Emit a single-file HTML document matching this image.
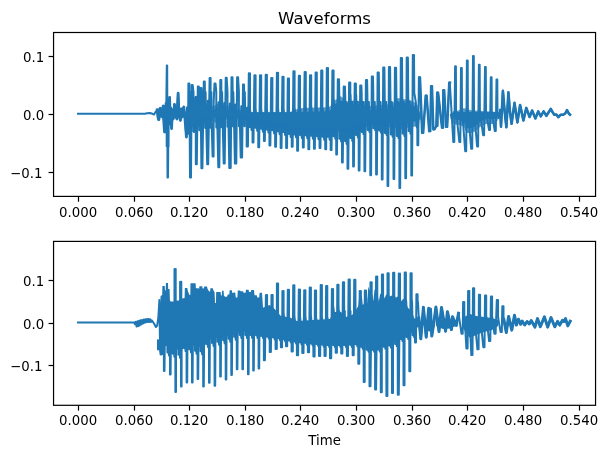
<!DOCTYPE html>
<html lang="en"><head><meta charset="utf-8"><title>Waveforms</title>
<style>html,body{margin:0;padding:0;background:#fff;}svg{display:block;}text{font-family:'DejaVu Sans', 'Liberation Sans', sans-serif;fill:#000;}</style></head><body>
<svg width="608" height="458" viewBox="0 0 608 458">
<rect x="0" y="0" width="608" height="458" fill="#ffffff"/>
<clipPath id="c1"><rect x="53.55" y="32.50" width="542.00" height="163.90"/></clipPath>
<g clip-path="url(#c1)" fill="none" stroke="#1f77b4" stroke-width="2" stroke-linejoin="round" stroke-linecap="square">
<polyline points="78.00,113.80 145.00,113.80 147.00,113.20 150.00,113.00 152.50,113.80 154.00,114.50 155.50,112.00 157.40,110.00 158.00,116.00 158.70,119.50 159.60,112.00 160.40,108.50 161.20,116.00 161.90,110.00 162.60,117.00 163.30,106.00 163.90,120.00 164.70,132.00 165.20,108.00 165.80,126.00 166.30,104.00 166.80,65.50 167.20,65.50 167.50,177.40 168.00,177.40 168.60,100.00 169.00,124.00 169.60,97.40 170.20,122.00 170.80,108.00 171.60,128.50 172.40,110.00 173.20,119.00 174.50,104.30 175.40,117.00 176.20,108.00 176.90,119.00 178.10,93.10 179.00,114.00 180.40,120.40 181.20,109.00 182.00,117.00 183.00,109.00 183.80,107.00 185.00,119.00 186.40,137.00 187.40,108.00 188.00,133.85 188.40,83.40 188.85,124.50 189.40,83.40 190.00,177.40 190.20,92.00 191.00,177.40 191.70,85.00 192.50,96.00 192.70,85.00 193.50,92.00 193.80,132.11 194.65,122.05 195.80,96.73 195.80,164.20 196.80,164.20 197.80,86.40 198.80,86.40 199.40,130.29 199.60,92.00 200.25,120.10 200.50,88.00 201.40,168.30 201.50,88.00 201.90,98.77 202.30,92.00 202.40,168.30 203.80,81.40 204.60,99.67 204.80,81.40 205.20,128.11 205.60,92.00 206.05,117.00 207.20,164.20 207.90,100.77 208.20,164.20 209.60,78.10 210.60,78.10 210.60,127.73 211.40,92.00 211.45,117.42 212.60,156.50 213.60,156.50 213.70,101.61 214.50,83.40 215.50,83.40 216.30,92.00 216.30,127.43 217.15,117.53 218.30,167.20 218.60,102.20 219.30,167.20 220.30,80.10 221.30,80.10 221.70,127.15 222.10,92.00 222.55,117.00 223.70,163.40 224.40,102.90 224.70,163.40 225.70,77.80 226.70,77.80 227.50,92.00 227.50,126.84 228.35,117.00 229.30,168.00 229.80,103.54 230.70,168.00 231.50,77.30 232.50,77.30 233.10,126.55 233.30,92.00 233.95,117.00 234.90,163.50 235.60,104.57 236.30,163.50 237.10,77.30 238.10,77.30 238.90,92.00 238.90,126.24 239.75,117.00 240.70,157.40 241.20,106.17 242.10,157.40 243.00,84.40 244.00,84.40 244.57,126.33 244.80,92.00 245.42,117.00 246.62,117.00 246.68,146.40 246.81,127.15 247.10,107.86 247.92,146.40 248.81,73.20 249.80,127.00 249.99,73.20 250.00,108.00 250.40,113.00 250.65,118.50 251.50,130.00 252.49,118.50 252.55,142.60 253.45,142.60 254.40,75.30 255.50,127.84 255.60,75.30 255.60,108.00 256.00,113.00 256.35,120.44 257.20,130.84 258.19,120.44 258.25,147.20 259.15,147.20 260.00,75.30 261.20,128.68 261.20,75.30 261.20,108.00 261.60,113.00 262.05,121.35 262.90,131.68 263.89,121.35 263.95,141.00 264.85,141.00 265.70,74.80 266.70,129.49 266.90,74.80 266.90,108.00 267.30,113.00 267.55,122.24 268.40,132.49 269.39,122.24 269.45,145.40 270.35,145.40 271.20,78.10 272.40,78.10 272.40,108.00 272.40,130.32 272.80,113.00 273.25,123.16 274.10,133.32 275.09,123.16 275.15,146.70 276.05,146.70 276.90,72.70 277.90,131.13 278.10,72.70 278.10,108.00 278.50,113.00 278.75,124.05 279.60,134.13 280.59,124.05 280.65,148.00 281.55,148.00 282.40,76.80 283.40,131.94 283.60,76.80 283.60,108.00 284.00,113.00 284.25,124.94 285.10,134.94 286.09,124.94 286.15,148.00 287.05,148.00 287.80,78.50 289.00,78.50 289.00,108.00 289.00,134.02 289.40,112.83 289.85,127.01 290.70,137.02 291.69,127.01 291.75,146.70 292.65,146.70 293.40,71.20 294.40,134.44 294.60,71.20 294.60,107.60 295.00,110.43 295.25,127.29 296.10,137.44 297.09,127.29 297.15,150.80 298.05,150.80 298.80,75.70 300.00,75.70 300.00,107.06 300.10,134.89 300.40,109.75 300.95,127.59 301.80,137.89 302.79,127.59 302.85,147.50 303.75,147.50 304.60,72.00 305.60,135.33 305.80,72.00 305.80,106.48 306.20,109.42 306.45,127.88 307.30,138.33 308.29,127.88 308.35,149.20 309.25,149.20 310.00,75.20 311.20,135.77 311.20,75.20 311.20,105.94 311.60,109.11 312.05,128.18 312.90,138.77 313.89,128.18 313.95,148.80 314.85,148.80 315.60,72.40 316.80,72.40 316.80,105.38 316.80,136.21 317.20,108.79 317.65,128.47 318.50,139.21 319.49,128.47 319.55,148.00 320.45,148.00 321.20,70.40 322.40,70.40 322.40,104.82 322.50,136.66 322.80,108.47 323.35,128.77 324.20,139.66 325.19,128.77 325.25,149.20 326.15,149.20 326.80,67.90 327.94,136.82 328.00,67.90 328.00,104.26 328.40,108.15 328.79,128.45 329.64,139.71 330.60,128.45 330.66,149.90 331.54,149.90 332.40,70.40 333.60,70.40 333.60,136.25 333.78,98.60 334.45,126.15 334.84,104.40 335.30,138.68 336.17,126.15 336.23,154.40 336.98,154.40 337.80,79.30 339.00,79.30 339.30,94.92 339.40,138.67 340.25,127.60 340.80,102.00 341.10,141.39 341.96,127.60 342.02,162.60 342.77,162.60 343.70,86.40 344.90,140.96 344.90,86.40 345.20,94.77 345.75,128.97 346.60,143.95 346.70,102.00 347.46,128.97 347.52,168.70 348.27,168.70 349.10,82.60 350.30,82.60 350.50,138.09 350.60,94.63 351.35,126.74 352.10,102.00 352.20,140.76 353.06,126.74 353.12,166.40 353.88,166.40 354.70,83.60 355.90,83.60 356.10,135.12 356.20,94.49 356.95,124.43 357.70,102.00 357.80,137.47 358.67,124.43 358.73,170.50 359.48,170.50 360.20,85.50 361.40,85.50 361.70,94.36 361.80,132.11 362.65,122.08 363.20,102.00 363.50,134.12 364.37,122.08 364.43,171.30 365.18,171.30 365.90,80.10 367.10,80.10 367.40,94.21 367.70,129.93 368.55,120.45 368.90,102.00 369.40,131.93 370.26,120.45 370.32,175.30 371.07,175.30 371.80,76.50 373.00,76.50 373.30,94.06 373.50,128.21 374.35,119.12 374.80,102.00 375.20,130.21 376.06,119.12 376.12,174.60 376.88,174.60 377.60,72.40 378.80,72.40 379.10,93.92 379.20,130.58 380.05,120.55 380.60,102.00 380.90,132.58 381.76,120.55 381.82,179.40 382.57,179.40 383.20,67.40 384.40,67.40 384.70,93.78 384.90,132.96 385.75,121.97 386.20,102.00 386.60,134.96 387.46,121.97 387.52,185.90 388.27,185.90 388.90,67.10 390.10,67.10 390.40,93.64 390.90,134.47 391.75,122.98 391.90,102.00 392.60,136.67 393.46,122.98 393.52,179.00 394.27,179.00 394.90,67.80 396.10,67.80 396.40,93.49 396.80,135.95 397.65,123.97 397.90,102.00 398.50,138.34 399.37,123.97 399.43,188.10 400.18,188.10 400.80,57.90 402.00,57.90 402.30,93.34 402.70,133.62 403.55,123.05 403.80,102.00 404.40,136.07 405.26,123.05 405.32,178.20 406.07,178.20 406.70,57.60 407.90,57.60 408.20,93.19 408.70,131.12 409.55,122.05 409.70,102.00 410.40,133.62 411.26,122.05 411.32,175.40 412.07,175.40 412.80,55.10 414.00,55.10 414.30,93.04 415.80,102.00 416.48,125.92 417.23,128.06 417.30,121.03 417.36,145.30 418.25,145.30 418.87,77.30 419.73,77.30 421.90,133.00 422.90,133.00 425.50,95.40 426.30,95.40 429.00,131.30 430.00,131.30 430.90,85.90 431.70,85.90 433.10,129.40 434.10,129.40 436.10,126.00 437.00,92.40 437.10,126.00 437.80,92.40 441.80,127.80 442.80,127.80 443.10,90.00 443.90,90.00 445.90,127.00 446.90,127.00 449.00,82.60 449.80,82.60 453.30,142.00 454.30,142.00 455.10,66.30 455.90,66.30 456.10,110.89 456.50,114.00 459.30,142.00 460.30,142.00 461.00,67.90 461.80,67.90 462.00,111.03 462.40,114.00 465.20,151.30 466.20,151.30 466.90,60.40 467.70,60.40 467.90,111.18 468.30,114.00 471.20,148.80 472.20,148.80 473.00,55.90 473.80,55.90 474.00,111.33 474.40,114.00 477.10,146.40 478.10,146.40 478.90,64.70 479.70,64.70 479.90,111.48 480.30,114.00 483.10,135.20 484.10,135.20 485.00,67.00 485.80,67.00 486.00,111.64 486.40,114.00 489.00,129.90 490.00,129.90 490.80,77.30 491.60,77.30 491.80,111.78 492.20,114.00 494.80,131.00 495.80,131.00 496.50,79.50 497.30,79.50 497.50,111.92 497.90,114.00 498.50,118.00 500.20,110.00 501.00,126.60 502.90,90.80 504.50,110.00 506.40,127.30 508.40,92.30 510.00,112.00 511.60,123.80 514.50,102.90 517.40,122.40 520.10,105.00 523.40,120.50 526.30,107.90 529.60,117.00 532.10,110.50 535.40,118.40 538.20,111.40 540.80,116.30 543.60,111.40 546.40,115.80 548.50,112.50 550.70,108.90 552.50,112.00 554.30,114.70 556.30,114.50 558.40,117.10 560.50,114.80 563.30,114.70 565.20,113.50 567.00,110.20 568.80,113.50 570.00,114.70"/>
<polyline points="419.37,77.30 420.23,77.30 422.40,133.00 423.40,133.00 426.00,95.40 426.80,95.40 429.50,131.30 430.50,131.30 431.40,85.90 432.20,85.90 433.60,129.40 434.60,129.40 436.60,126.00 437.50,92.40 437.60,126.00 438.30,92.40 442.30,127.80 443.30,127.80 443.60,90.00 444.40,90.00 446.40,127.00 447.40,127.00 449.50,82.60 450.30,82.60"/>
<polyline points="157.40,110.00 158.00,116.00 158.70,119.50 159.60,112.00 160.40,108.50 161.20,116.00 161.90,110.00 162.60,117.00 163.30,106.00 163.90,120.00 164.70,132.00 165.20,108.00 165.80,126.00 166.30,104.00" stroke-width="3.20"/>
<polyline points="168.60,100.00 169.00,124.00 169.60,97.40 170.20,122.00 170.80,108.00 171.60,128.50 172.40,110.00 173.20,119.00 174.50,104.30 175.40,117.00 176.20,108.00 176.90,119.00 178.10,93.10 179.00,114.00 180.40,120.40 181.20,109.00 182.00,117.00 183.00,109.00 183.80,107.00 185.00,119.00 186.40,137.00 187.40,108.00" stroke-width="2.80"/>
<polyline points="166.60,118.00 166.70,146.00"/>
<polyline points="168.40,116.00 168.40,146.00"/>
<polyline points="500.20,110.00 501.00,126.60 502.90,90.80 504.50,110.00 506.40,127.30 508.40,92.30 510.00,112.00 511.60,123.80 514.50,102.90 517.40,122.40 520.10,105.00 523.40,120.50 526.30,107.90 529.60,117.00 532.10,110.50 535.40,118.40 538.20,111.40 540.80,116.30 543.60,111.40 546.40,115.80 548.50,112.50 550.70,108.90 552.50,112.00 554.30,114.70 556.30,114.50 558.40,117.10 560.50,114.80 563.30,114.70 565.20,113.50 567.00,110.20 568.80,113.50 570.00,114.70" stroke-width="2.60"/>
<polyline points="188.00,112.00 188.70,119.10 189.40,105.63 190.10,126.23 190.80,99.48 191.50,129.50 192.20,98.22 192.90,130.90 193.60,97.68 194.30,129.05 195.00,98.10 195.70,126.95 196.40,98.52 197.10,125.00 197.80,98.94 198.50,125.00 199.20,99.96 199.90,125.00 200.60,101.08 201.30,124.44 202.00,102.20 202.70,121.81 203.40,103.40 204.10,119.19 204.80,104.80 205.50,117.62 206.20,106.20 206.90,117.97 207.60,107.00 208.30,118.32 209.00,107.00 209.70,118.67 210.40,107.00 211.10,119.06 211.80,107.00 212.50,119.90 213.20,107.00 213.90,120.74 214.60,106.64 215.30,121.58 216.00,105.80 216.70,121.53 217.40,104.96 218.10,120.60 218.80,104.12 219.50,119.67 220.20,104.48 220.90,118.73 221.60,105.04 222.30,118.01 223.00,105.60 223.70,118.08 224.40,106.10 225.10,118.15 225.80,106.45 226.50,118.22 227.20,106.80 227.90,118.29 228.60,107.15 229.30,118.36 230.00,107.50 230.70,118.43 231.40,107.92 232.10,118.50 232.80,108.34 233.50,118.50 234.20,108.76 234.90,118.50 235.60,109.20 236.30,118.50 237.00,109.67 237.70,118.50 238.40,110.13 239.10,118.50 239.80,110.60 240.50,118.50 241.20,111.06 241.90,118.50 242.60,111.48 243.30,118.50 244.00,111.90 244.70,118.50 245.40,112.32 246.10,118.56 246.80,112.83 247.50,119.44 248.20,113.42 248.90,120.31 249.60,114.00 250.30,121.15 251.00,114.58 251.70,121.85 252.40,115.00 253.10,122.55 253.80,115.00 254.50,123.25 255.20,115.00 255.90,123.95 256.60,115.00 257.30,124.21 258.00,115.00 258.70,124.44 259.40,115.00 260.10,124.66 260.80,115.00 261.50,124.89 262.20,115.00 262.90,125.11 263.60,115.00 264.30,125.34 265.00,115.00 265.70,125.56 266.40,115.00 267.10,125.79 267.80,115.00 268.50,126.02 269.20,115.00 269.90,126.24 270.60,115.00 271.30,126.47 272.00,115.00 272.70,126.69 273.40,115.00 274.10,126.92 274.80,115.00 275.50,127.15 276.20,115.00 276.90,127.37 277.60,115.00 278.30,127.60 279.00,115.00 279.70,127.82 280.40,115.00 281.10,128.05 281.80,115.00 282.50,128.27 283.20,115.00 283.90,128.50 284.60,115.00 285.30,128.73 286.00,114.57 286.70,128.95 287.40,113.97 288.10,129.44 288.80,113.37 289.50,130.00 290.20,112.77 290.90,130.56 291.60,112.17 292.30,131.02 293.00,111.63 293.70,131.09 294.40,111.10 295.10,131.16 295.80,110.58 296.50,131.24 297.20,110.05 297.90,131.31 298.60,109.53 299.30,131.38 300.00,109.00 300.70,131.46 301.40,108.95 302.10,131.53 302.80,108.91 303.50,131.61 304.20,108.86 304.90,131.68 305.60,108.81 306.30,131.75 307.00,108.77 307.70,131.83 308.40,108.72 309.10,131.90 309.80,108.67 310.50,131.97 311.20,108.63 311.90,132.05 312.60,108.58 313.30,132.12 314.00,108.53 314.70,132.19 315.40,108.49 316.10,132.27 316.80,108.44 317.50,132.34 318.20,108.39 318.90,132.42 319.60,108.35 320.30,132.49 321.00,108.30 321.70,132.56 322.40,108.25 323.10,132.64 323.80,108.21 324.50,132.71 325.20,108.16 325.90,132.78 326.60,108.11 327.30,132.86 328.00,108.07 328.70,132.93 329.40,108.02 330.10,132.95 330.80,106.80 331.50,132.25 332.20,104.70 332.90,131.55 333.60,102.60 334.30,130.85 335.00,101.25 335.70,130.15 336.40,100.22 337.10,130.27 337.80,99.24 338.50,130.62 339.20,98.26 339.90,130.97 340.60,97.28 341.30,131.32 342.00,98.17 342.70,131.67 343.40,99.80 344.10,132.02 344.80,101.43 345.50,132.37 346.20,103.07 346.90,132.72 347.60,103.70 348.30,132.88 349.00,103.00 349.70,132.30 350.40,102.30 351.10,131.72 351.80,101.60 352.50,131.15 353.20,101.55 353.90,130.57 354.60,101.61 355.30,129.99 356.00,101.67 356.70,129.42 357.40,101.72 358.10,128.84 358.80,101.78 359.50,128.26 360.20,101.84 360.90,127.69 361.60,101.90 362.30,127.11 363.00,101.96 363.70,126.54 364.40,102.40 365.10,125.97 365.80,103.80 366.50,125.59 367.20,105.20 367.90,125.21 368.60,106.60 369.30,124.83 370.00,106.91 370.70,124.45 371.40,106.78 372.10,124.06 372.80,106.65 373.50,123.68 374.20,106.53 374.90,123.30 375.60,106.40 376.30,123.07 377.00,106.27 377.70,123.42 378.40,106.15 379.10,123.77 379.80,106.02 380.50,124.12 381.20,105.90 381.90,124.47 382.60,105.78 383.30,124.82 384.00,105.67 384.70,125.17 385.40,105.55 386.10,125.52 386.80,105.43 387.50,125.87 388.20,105.32 388.90,126.15 389.60,105.20 390.30,126.38 391.00,105.08 391.70,126.62 392.40,104.60 393.10,126.85 393.80,103.20 394.50,127.08 395.20,101.80 395.90,127.32 396.60,100.40 397.30,127.55 398.00,99.00 398.70,127.78 399.40,99.23 400.10,127.98 400.80,99.47 401.50,127.75 402.20,99.70 402.90,127.52 403.60,99.93 404.30,127.28 405.00,100.17 405.70,127.05 406.40,100.40 407.10,126.82 407.80,100.63 408.50,126.58 409.20,100.87 409.90,126.35 410.60,101.30 411.30,126.12 412.00,102.00 412.70,125.88 413.40,102.70 414.10,125.65 414.80,103.40 415.50,125.42 416.20,104.27 416.90,125.18 417.60,106.45 418.30,122.57 419.00,112.21 419.70,118.93" stroke-width="2.00" opacity="0.75"/>
<polyline points="451.00,116.49 451.70,119.38 452.40,114.11 453.10,122.06 453.80,112.03 454.50,123.12 455.20,111.85 455.90,123.47 456.60,111.68 457.30,123.78 458.00,111.50 458.70,124.08 459.40,110.92 460.10,124.38 460.80,110.33 461.50,124.68 462.20,109.75 462.90,124.98 463.60,109.17 464.30,127.27 465.00,109.33 465.70,129.72 466.40,109.80 467.10,132.00 467.80,110.27 468.50,132.00 469.20,110.73 469.90,132.00 470.60,111.04 471.30,131.89 472.00,111.14 472.70,131.36 473.40,111.23 474.10,130.84 474.80,111.33 475.50,130.05 476.20,111.42 476.90,128.79 477.60,111.52 478.30,127.53 479.00,111.61 479.70,126.27 480.40,111.71 481.10,125.45 481.80,111.80 482.50,124.75 483.20,111.90 483.90,124.05 484.60,112.00 485.30,123.35 486.00,112.09 486.70,123.00 487.40,112.19 488.10,123.00 488.80,112.28 489.50,123.00 490.20,112.38 490.90,123.00 491.60,112.47 492.30,123.00 493.00,112.56 493.70,123.00 494.40,112.65 495.10,122.63 495.80,113.22 496.50,120.60 497.20,115.41 497.90,118.17" stroke-width="2.00" opacity="0.75"/>
<polyline points="188.00,112.25 188.70,116.80 189.40,107.98 190.10,121.83 190.80,103.48 191.50,124.50 192.20,102.22 192.90,125.90 193.60,101.68 194.30,124.05 195.00,102.10 195.70,121.95 196.40,102.52 197.10,120.00 197.80,102.94 198.50,120.00 199.20,103.96 199.90,120.00 200.60,105.08 201.30,119.70 202.00,106.20 202.70,118.30 203.40,107.40 204.10,116.90 204.80,108.80 205.50,116.00 206.20,110.20 206.90,116.00 207.60,111.00 208.30,116.00 209.00,111.00 209.70,116.00 210.40,111.00 211.10,116.02 211.80,111.00 212.50,116.30 213.20,111.00 213.90,116.58 214.60,110.64 215.30,116.86 216.00,109.80 216.70,116.88 217.40,108.96 218.10,116.65 218.80,108.12 219.50,116.42 220.20,108.48 220.90,116.18 221.60,109.04 222.30,116.00 223.00,109.60 223.70,116.00 224.40,110.10 225.10,116.00 225.80,110.45 226.50,116.00 227.20,110.80 227.90,116.00 228.60,111.15 229.30,116.00 230.00,111.50 230.70,116.00 231.40,111.92 232.10,116.00 232.80,112.34 233.50,116.00 234.20,112.76 234.90,116.00 235.60,113.00 236.30,116.00 237.00,113.00 237.70,116.00 238.40,113.00 239.10,116.00 239.80,113.00 240.50,116.00 241.20,113.00 241.90,116.00 242.60,113.00 243.30,116.00 244.00,113.00 244.70,116.00 245.40,113.00 246.10,116.00 246.80,113.00 247.50,116.00 248.20,113.00 248.90,116.00 249.60,113.00 250.30,116.15 251.00,113.00 251.70,116.85 252.40,113.00 253.10,117.55 253.80,113.00 254.50,118.25 255.20,113.00 255.90,118.95 256.60,113.00 257.30,119.21 258.00,113.00 258.70,119.44 259.40,113.00 260.10,119.66 260.80,113.00 261.50,119.89 262.20,113.00 262.90,120.11 263.60,113.00 264.30,120.34 265.00,113.00 265.70,120.56 266.40,113.00 267.10,120.79 267.80,113.00 268.50,121.02 269.20,113.00 269.90,121.24 270.60,113.00 271.30,121.47 272.00,113.00 272.70,121.69 273.40,113.00 274.10,121.92 274.80,113.00 275.50,122.15 276.20,113.00 276.90,122.37 277.60,113.00 278.30,122.60 279.00,113.00 279.70,122.82 280.40,113.00 281.10,123.05 281.80,113.00 282.50,123.27 283.20,113.00 283.90,123.50 284.60,113.00 285.30,123.73 286.00,113.00 286.70,123.95 287.40,113.00 288.10,124.44 288.80,113.00 289.50,125.00 290.20,113.00 290.90,125.56 291.60,113.00 292.30,126.02 293.00,113.00 293.70,126.09 294.40,113.00 295.10,126.16 295.80,113.00 296.50,126.24 297.20,113.00 297.90,126.31 298.60,113.00 299.30,126.38 300.00,113.00 300.70,126.46 301.40,112.95 302.10,126.53 302.80,112.91 303.50,126.61 304.20,112.86 304.90,126.68 305.60,112.81 306.30,126.75 307.00,112.77 307.70,126.83 308.40,112.72 309.10,126.90 309.80,112.67 310.50,126.97 311.20,112.63 311.90,127.05 312.60,112.58 313.30,127.12 314.00,112.53 314.70,127.19 315.40,112.49 316.10,127.27 316.80,112.44 317.50,127.34 318.20,112.39 318.90,127.42 319.60,112.35 320.30,127.49 321.00,112.30 321.70,127.56 322.40,112.25 323.10,127.64 323.80,112.21 324.50,127.71 325.20,112.16 325.90,127.78 326.60,112.11 327.30,127.86 328.00,112.07 328.70,127.93 329.40,112.02 330.10,127.95 330.80,110.80 331.50,127.25 332.20,108.70 332.90,126.55 333.60,106.60 334.30,125.85 335.00,105.25 335.70,125.15 336.40,104.22 337.10,125.27 337.80,103.24 338.50,125.62 339.20,102.26 339.90,125.97 340.60,101.28 341.30,126.32 342.00,102.17 342.70,126.67 343.40,103.80 344.10,127.02 344.80,105.43 345.50,127.37 346.20,107.07 346.90,127.72 347.60,107.70 348.30,127.88 349.00,107.00 349.70,127.30 350.40,106.30 351.10,126.72 351.80,105.60 352.50,126.15 353.20,105.55 353.90,125.57 354.60,105.61 355.30,124.99 356.00,105.67 356.70,124.42 357.40,105.72 358.10,123.84 358.80,105.78 359.50,123.26 360.20,105.84 360.90,122.69 361.60,105.90 362.30,122.11 363.00,105.96 363.70,121.54 364.40,106.40 365.10,120.97 365.80,107.80 366.50,120.59 367.20,109.20 367.90,120.21 368.60,110.60 369.30,119.83 370.00,110.91 370.70,119.45 371.40,110.78 372.10,119.06 372.80,110.65 373.50,118.68 374.20,110.53 374.90,118.30 375.60,110.40 376.30,118.07 377.00,110.27 377.70,118.42 378.40,110.15 379.10,118.77 379.80,110.02 380.50,119.12 381.20,109.90 381.90,119.47 382.60,109.78 383.30,119.82 384.00,109.67 384.70,120.17 385.40,109.55 386.10,120.52 386.80,109.43 387.50,120.87 388.20,109.32 388.90,121.15 389.60,109.20 390.30,121.38 391.00,109.08 391.70,121.62 392.40,108.60 393.10,121.85 393.80,107.20 394.50,122.08 395.20,105.80 395.90,122.32 396.60,104.40 397.30,122.55 398.00,103.00 398.70,122.78 399.40,103.23 400.10,122.98 400.80,103.47 401.50,122.75 402.20,103.70 402.90,122.52 403.60,103.93 404.30,122.28 405.00,104.17 405.70,122.05 406.40,104.40 407.10,121.82 407.80,104.63 408.50,121.58 409.20,104.87 409.90,121.35 410.60,105.30 411.30,121.12 412.00,106.00 412.70,120.88 413.40,106.70 414.10,120.65 414.80,107.40 415.50,120.42 416.20,108.27 416.90,120.18 417.60,110.30 418.30,118.77 419.00,113.96 419.70,116.97"/>
<polyline points="451.00,114.77 451.70,116.10 452.40,113.84 453.10,117.46 453.80,113.00 454.50,118.12 455.20,113.00 455.90,118.47 456.60,113.00 457.30,118.78 458.00,113.00 458.70,119.08 459.40,113.00 460.10,119.38 460.80,113.00 461.50,119.68 462.20,113.00 462.90,119.98 463.60,113.00 464.30,122.27 465.00,113.00 465.70,124.72 466.40,113.00 467.10,127.00 467.80,113.00 468.50,127.00 469.20,113.00 469.90,127.00 470.60,113.00 471.30,126.89 472.00,113.00 472.70,126.36 473.40,113.00 474.10,125.84 474.80,113.00 475.50,125.05 476.20,113.00 476.90,123.79 477.60,113.00 478.30,122.53 479.00,113.00 479.70,121.27 480.40,113.00 481.10,120.45 481.80,113.00 482.50,119.75 483.20,113.00 483.90,119.05 484.60,113.00 485.30,118.35 486.00,113.00 486.70,118.00 487.40,113.00 488.10,118.00 488.80,113.00 489.50,118.00 490.20,113.00 490.90,118.00 491.60,113.00 492.30,118.00 493.00,113.00 493.70,118.00 494.40,113.00 495.10,117.63 495.80,113.22 496.50,116.47 497.20,114.11 497.90,115.22"/>
</g>
<line x1="78.50" y1="196.40" x2="78.50" y2="201.70" stroke="#000" stroke-width="1.20"/>
<line x1="134.50" y1="196.40" x2="134.50" y2="201.70" stroke="#000" stroke-width="1.20"/>
<line x1="189.50" y1="196.40" x2="189.50" y2="201.70" stroke="#000" stroke-width="1.20"/>
<line x1="245.50" y1="196.40" x2="245.50" y2="201.70" stroke="#000" stroke-width="1.20"/>
<line x1="300.50" y1="196.40" x2="300.50" y2="201.70" stroke="#000" stroke-width="1.20"/>
<line x1="356.50" y1="196.40" x2="356.50" y2="201.70" stroke="#000" stroke-width="1.20"/>
<line x1="412.50" y1="196.40" x2="412.50" y2="201.70" stroke="#000" stroke-width="1.20"/>
<line x1="467.50" y1="196.40" x2="467.50" y2="201.70" stroke="#000" stroke-width="1.20"/>
<line x1="523.50" y1="196.40" x2="523.50" y2="201.70" stroke="#000" stroke-width="1.20"/>
<line x1="579.50" y1="196.40" x2="579.50" y2="201.70" stroke="#000" stroke-width="1.20"/>
<line x1="48.55" y1="56.50" x2="53.55" y2="56.50" stroke="#000" stroke-width="1.20"/>
<line x1="48.55" y1="114.50" x2="53.55" y2="114.50" stroke="#000" stroke-width="1.20"/>
<line x1="48.55" y1="172.50" x2="53.55" y2="172.50" stroke="#000" stroke-width="1.20"/>
<rect x="53.55" y="32.50" width="542.00" height="163.90" fill="none" stroke="#000" stroke-width="1.20"/>
<text x="78.10" y="216.70" font-size="13.33" text-anchor="middle">0.000</text>
<text x="134.10" y="216.70" font-size="13.33" text-anchor="middle">0.060</text>
<text x="189.10" y="216.70" font-size="13.33" text-anchor="middle">0.120</text>
<text x="245.10" y="216.70" font-size="13.33" text-anchor="middle">0.180</text>
<text x="300.10" y="216.70" font-size="13.33" text-anchor="middle">0.240</text>
<text x="356.10" y="216.70" font-size="13.33" text-anchor="middle">0.300</text>
<text x="412.10" y="216.70" font-size="13.33" text-anchor="middle">0.360</text>
<text x="467.10" y="216.70" font-size="13.33" text-anchor="middle">0.420</text>
<text x="523.10" y="216.70" font-size="13.33" text-anchor="middle">0.480</text>
<text x="579.10" y="216.70" font-size="13.33" text-anchor="middle">0.540</text>
<text x="44.15" y="61.70" font-size="13.33" text-anchor="end">0.1</text>
<text x="44.15" y="119.70" font-size="13.33" text-anchor="end">0.0</text>
<text x="42.45" y="177.70" font-size="13.33" text-anchor="end">−0.1</text>
<clipPath id="c2"><rect x="53.55" y="241.40" width="542.00" height="163.90"/></clipPath>
<g clip-path="url(#c2)" fill="none" stroke="#1f77b4" stroke-width="2" stroke-linejoin="round" stroke-linecap="square">
<polyline points="78.00,322.50 133.50,322.50 134.20,322.37 135.00,324.24 135.80,321.86 136.60,326.60 137.40,321.34 138.20,326.20 139.00,320.82 139.80,325.47 140.60,320.35 141.40,324.40 142.20,319.95 143.00,323.50 143.80,319.55 144.60,322.70 145.40,319.31 146.20,322.30 147.00,319.08 147.80,322.03 148.60,319.07 149.40,322.00 150.20,319.18 151.00,322.00 151.80,320.37 154.00,323.50 155.90,327.00 157.20,325.50 158.30,318.00 159.40,300.00 160.00,345.00 157.95,340.25 158.00,349.45 158.85,341.25 160.60,354.40 161.20,354.40 161.25,343.69 161.30,351.05 161.45,340.25 162.15,344.69 162.90,354.05 163.84,344.69 163.90,370.90 164.50,370.90 164.75,343.69 167.35,345.62 167.40,352.48 168.25,346.62 168.99,355.48 169.94,346.62 170.00,374.50 170.60,374.50 170.85,345.62 172.75,347.33 172.80,353.75 173.65,348.33 174.05,305.00 174.39,356.75 174.50,268.90 175.34,348.33 175.40,391.90 175.70,268.90 175.70,300.00 176.00,391.90 176.10,302.00 176.25,347.33 178.35,348.65 178.40,354.65 179.25,349.65 179.65,305.00 179.98,357.65 180.10,281.80 180.94,349.65 181.00,386.50 181.30,281.80 181.30,300.00 181.60,386.50 181.70,302.00 181.85,348.65 183.95,342.12 184.00,348.12 184.85,343.12 185.58,351.12 186.54,343.12 186.60,382.40 187.20,382.40 187.45,342.12 189.35,343.32 189.40,349.32 190.25,344.32 190.97,352.32 191.94,344.32 192.00,382.40 192.60,382.40 192.85,343.32 194.95,344.73 195.00,350.73 195.85,345.73 196.57,353.73 197.54,345.73 197.60,379.10 198.20,379.10 198.45,344.73 200.55,345.33 200.60,351.33 201.45,346.33 202.17,354.33 203.14,346.33 203.20,386.50 203.80,386.50 204.05,345.33 206.35,337.95 206.40,343.95 207.25,338.95 207.96,346.95 208.94,338.95 209.00,382.70 209.60,382.70 209.85,337.95 211.95,336.93 212.00,342.93 212.85,337.93 213.56,345.93 214.54,337.93 214.60,385.70 215.20,385.70 215.45,336.93 217.55,335.86 217.60,341.86 218.45,336.86 219.15,344.86 220.14,336.86 220.20,376.60 220.80,376.60 221.05,335.86 223.05,334.36 223.10,340.36 223.95,335.36 224.65,343.36 225.64,335.36 225.70,379.40 226.30,379.40 226.55,334.36 228.65,332.84 228.70,338.78 229.55,333.84 230.24,341.78 231.24,333.84 231.30,375.00 231.90,375.00 232.15,332.84 234.15,331.34 234.20,336.78 235.05,332.34 235.74,339.78 236.74,332.34 236.80,369.20 237.40,369.20 237.65,331.34 239.75,330.00 239.80,335.00 240.65,331.00 241.34,338.00 242.34,331.00 242.40,369.20 243.00,369.20 243.25,330.00 245.35,330.00 245.40,335.00 246.25,331.00 246.93,338.00 247.94,331.00 248.00,374.20 248.60,374.20 248.85,330.00 250.55,330.00 250.60,335.00 251.45,331.00 252.13,338.00 253.14,331.00 253.20,370.40 253.80,370.40 254.05,330.00 255.95,330.23 256.00,335.13 256.85,331.23 257.52,338.00 258.54,331.23 258.60,368.40 259.20,368.40 259.45,330.23 261.27,331.00 261.32,335.91 262.17,332.00 263.02,338.00 263.82,332.00 263.88,360.20 264.92,360.20 265.90,295.10 267.05,331.61 267.10,295.10 267.10,306.21 267.10,336.71 267.50,309.25 267.95,332.61 268.91,338.71 269.64,332.61 269.70,352.00 270.90,352.00 271.50,295.10 272.70,295.10 272.70,308.61 272.95,332.46 273.00,337.49 273.10,312.05 273.85,333.46 274.81,339.49 275.54,333.46 275.60,349.00 276.80,349.00 276.90,283.60 278.10,283.60 278.10,310.93 278.25,333.23 278.30,338.30 278.50,314.75 279.15,334.23 280.10,340.30 280.84,334.23 280.90,347.20 282.10,347.20 282.40,290.90 283.35,333.99 283.40,339.32 283.60,290.90 283.60,312.71 284.00,316.71 284.25,334.99 285.20,341.32 285.94,334.99 286.00,346.30 287.20,346.30 287.80,289.70 288.95,334.83 289.00,289.70 289.00,313.98 289.00,340.44 289.40,317.98 289.85,335.83 290.80,342.44 291.54,335.83 291.60,351.40 292.80,351.40 293.20,285.30 294.25,335.62 294.30,341.50 294.40,285.30 294.40,315.25 294.80,319.25 295.15,336.62 296.09,343.50 296.84,336.62 296.90,355.20 298.10,355.20 298.80,289.40 299.65,336.19 299.70,342.29 300.00,289.40 300.00,315.85 300.40,319.85 300.55,337.19 301.49,344.29 302.24,337.19 302.30,353.10 303.50,353.10 304.20,290.20 305.25,336.57 305.30,342.85 305.40,290.20 305.40,315.53 305.80,319.53 306.15,337.57 307.08,344.85 307.84,337.57 307.90,352.20 309.10,352.20 309.70,287.60 310.75,336.93 310.80,343.40 310.90,287.60 310.90,315.19 311.30,319.19 311.65,337.93 312.58,345.40 313.34,337.93 313.40,356.50 314.60,356.50 314.90,290.50 316.10,290.50 316.10,314.88 316.35,337.31 316.40,343.96 316.50,318.88 317.25,338.31 318.17,345.96 318.94,338.31 319.00,356.00 320.20,356.00 320.70,285.10 321.85,337.67 321.90,285.10 321.90,314.53 321.90,344.51 322.30,318.53 322.75,338.67 323.67,346.51 324.44,338.67 324.50,356.00 325.70,356.00 326.10,286.10 327.30,286.10 327.30,314.20 327.35,337.98 327.40,345.00 327.70,318.20 328.25,338.98 329.17,347.00 329.94,338.98 330.00,358.30 331.20,358.30 331.90,288.90 333.05,337.77 333.10,288.90 333.10,345.00 333.20,306.00 333.80,311.00 333.95,338.77 334.86,347.00 335.65,338.77 335.71,352.80 336.89,352.80 337.30,284.80 338.50,284.80 338.55,337.58 338.60,306.00 338.60,345.00 339.20,311.00 339.45,338.58 340.36,347.00 341.17,338.58 341.23,353.60 342.37,353.60 342.90,282.30 344.10,282.30 344.15,337.38 344.20,306.00 344.20,345.00 344.80,311.00 345.05,338.38 345.95,347.00 346.79,338.38 346.85,356.10 347.95,356.10 348.60,279.40 349.80,279.40 349.90,306.00 349.95,337.17 350.00,344.80 350.50,311.00 350.85,338.17 351.75,346.80 352.61,338.17 352.67,355.30 353.73,355.30 354.20,279.80 355.40,279.80 355.50,306.00 355.55,337.53 355.60,344.36 356.10,311.00 356.45,338.53 357.34,346.36 358.24,338.53 358.30,363.80 359.30,363.80 359.70,290.90 360.90,290.90 360.90,296.02 360.95,341.10 361.00,346.80 361.30,299.02 361.85,342.10 362.74,348.80 363.64,342.10 363.70,381.90 364.70,381.90 364.80,290.50 366.00,290.50 366.00,296.36 366.40,299.36 366.75,344.00 366.80,349.70 367.65,345.00 368.54,351.70 369.44,345.00 369.50,386.20 370.50,282.30 370.50,386.20 371.70,282.30 371.70,296.74 372.10,299.74 372.35,344.00 372.40,349.70 373.25,345.00 374.13,351.70 375.04,345.00 375.10,389.50 376.10,276.60 376.10,389.50 377.30,276.60 377.30,297.11 377.70,300.11 378.05,343.85 378.10,349.55 378.95,344.85 379.83,351.55 380.74,344.85 380.80,392.30 381.80,392.30 381.90,274.60 383.10,274.60 383.10,297.50 383.50,300.50 383.65,341.05 383.70,346.75 384.55,342.05 385.42,348.75 386.34,342.05 386.40,395.90 387.40,395.90 387.50,273.30 388.70,273.30 388.70,297.87 389.10,300.87 389.25,340.00 389.30,345.50 390.15,341.00 391.02,347.50 391.94,341.00 392.00,393.10 393.00,393.10 393.10,272.80 394.30,272.80 394.30,298.25 394.70,301.25 395.05,338.75 395.10,344.04 395.95,339.75 396.81,346.04 397.74,339.75 397.80,394.70 398.80,273.60 398.80,394.70 400.00,273.60 400.00,298.63 400.40,301.63 400.75,334.00 400.80,339.00 401.65,335.00 402.51,341.00 403.44,335.00 403.50,385.20 404.50,385.20 404.70,272.40 405.90,272.40 405.90,299.02 406.30,302.02 406.55,332.07 406.60,337.07 407.45,333.07 408.30,339.07 409.24,333.07 409.30,371.20 410.30,371.20 410.50,273.30 411.70,273.30 411.70,299.41 412.10,302.41 412.57,328.50 412.62,335.17 413.47,329.50 414.15,337.17 414.94,329.50 415.00,342.40 416.00,342.40 416.40,294.20 417.60,294.20 417.60,299.80 418.00,302.80 418.80,318.00 420.80,338.80 423.40,307.30 426.20,337.20 428.70,308.30 429.60,330.00 430.50,309.10 431.80,336.10 434.00,322.00 435.90,307.10 439.00,331.50 441.50,307.40 445.60,331.20 447.40,311.70 451.40,329.60 452.50,316.70 456.30,325.40 458.50,313.20 461.50,333.70 462.70,333.70 463.10,301.90 464.30,301.90 464.30,314.15 464.70,318.15 466.40,348.50 467.60,348.50 468.10,291.00 469.30,291.00 469.30,314.35 469.70,318.35 471.30,355.10 472.50,355.10 473.00,288.20 474.20,288.20 474.20,314.54 474.60,318.54 477.40,349.30 478.60,349.30 478.90,294.80 480.10,294.80 480.10,314.78 480.50,318.78 483.30,347.20 484.50,347.20 485.00,295.60 486.20,295.60 486.20,315.02 486.60,319.02 489.10,341.10 490.30,341.10 490.90,296.40 492.10,296.40 492.10,315.26 492.50,319.26 494.40,333.70 495.60,333.70 496.80,300.00 498.00,300.00 498.00,315.50 498.40,319.50 500.60,332.00 501.80,332.00 502.30,306.30 503.50,306.30 503.50,315.72 503.90,319.72 506.30,332.50 508.60,316.40 511.80,330.10 514.50,315.30 516.40,325.10 518.40,319.20 520.60,324.30 522.20,321.00 524.70,325.00 527.10,321.60 529.30,324.00 531.20,320.50 534.90,327.10 537.50,318.60 540.30,326.80 544.40,316.90 547.70,327.10 551.00,317.60 554.80,326.80 557.60,321.40 559.70,325.10 562.50,320.20 564.00,321.50 565.50,318.60 567.80,325.90 570.20,321.20"/>
<polyline points="418.80,318.00 420.80,338.80 423.40,307.30 426.20,337.20 428.70,308.30 429.60,330.00 430.50,309.10 431.80,336.10 434.00,322.00 435.90,307.10 439.00,331.50 441.50,307.40 445.60,331.20 447.40,311.70 451.40,329.60 452.50,316.70 456.30,325.40 458.50,313.20" stroke-width="3.00"/>
<polyline points="503.90,319.72 506.30,332.50 508.60,316.40 511.80,330.10 514.50,315.30 516.40,325.10 518.40,319.20 520.60,324.30 522.20,321.00 524.70,325.00 527.10,321.60 529.30,324.00 531.20,320.50 534.90,327.10 537.50,318.60 540.30,326.80 544.40,316.90 547.70,327.10 551.00,317.60 554.80,326.80 557.60,321.40 559.70,325.10 562.50,320.20 564.00,321.50 565.50,318.60 567.80,325.90 570.20,321.20" stroke-width="3.00"/>
<polygon points="159.00,326.00 159.30,309.00 160.30,301.00 160.60,296.00 162.20,295.00 162.40,286.00 164.80,286.00 165.00,290.50 165.70,290.50 165.90,283.00 168.00,283.00 168.20,289.00 169.60,289.00 169.90,300.00 170.50,301.50 173.70,301.50 176.50,300.50 179.30,300.50 182.20,298.50 184.60,298.00 184.90,288.00 187.40,288.00 187.80,291.00 189.50,295.00 190.30,295.00 190.50,283.30 195.60,283.30 195.90,288.20 198.60,288.20 199.10,289.00 199.40,286.30 202.20,286.30 202.60,288.60 203.80,288.60 204.20,286.60 207.00,286.60 207.60,289.00 209.20,291.50 210.10,291.50 210.40,288.20 212.80,288.20 213.30,290.00 214.60,292.50 215.00,303.00 215.90,303.00 216.20,292.00 220.60,292.00 221.00,295.50 221.80,295.50 222.00,290.80 223.60,290.80 223.90,295.50 225.00,296.80 227.00,296.80 227.80,294.50 229.30,294.50 229.60,290.20 231.90,290.20 232.30,293.00 233.20,293.00 233.50,292.50 235.20,292.50 235.80,297.50 237.40,297.50 237.80,290.60 240.20,290.60 240.50,291.20 243.00,291.20 243.60,292.80 245.60,292.80 246.00,289.70 248.60,289.70 249.00,292.00 250.80,292.00 251.30,290.10 254.00,290.10 254.50,295.30 256.80,295.30 257.30,297.40 259.20,297.40 259.60,292.70 262.00,292.70 262.50,300.00 263.00,307.60 263.70,307.60 269.50,305.00 274.70,309.00 280.20,315.50 291.00,318.00 297.00,321.00 330.00,319.00 333.00,312.00 341.00,312.00 346.00,317.00 352.00,315.00 356.50,309.00 358.30,306.00 359.20,296.00 361.50,295.40 362.50,305.00 363.80,304.00 364.30,296.00 366.50,296.00 367.20,303.70 368.00,290.00 368.60,286.50 369.50,290.00 372.50,295.00 373.30,301.40 374.50,289.50 375.50,290.00 377.80,296.00 378.60,303.00 380.20,293.70 381.30,294.00 383.80,296.00 384.50,298.40 386.10,294.50 387.00,294.50 389.20,295.00 389.80,296.60 391.70,295.40 392.60,295.40 395.00,296.00 395.80,297.80 397.60,296.60 398.30,296.60 400.60,298.00 401.30,301.40 403.20,298.80 404.20,299.00 406.50,303.00 407.70,307.30 409.50,309.50 410.00,309.50 412.50,312.00 413.60,316.80 415.00,319.00 416.00,318.00 418.00,317.00 420.00,320.00 420.00,324.00 416.00,329.60 414.00,331.60 410.00,333.60 404.00,335.60 398.00,340.60 387.00,342.60 381.00,345.60 370.00,345.60 364.00,342.60 358.00,338.60 330.00,339.60 300.00,337.60 280.00,334.60 266.00,332.60 262.00,332.60 258.00,331.60 242.00,331.60 231.00,334.60 220.00,337.60 209.00,339.60 203.00,347.60 187.00,343.60 181.00,350.60 162.00,344.60 160.00,338.00 159.00,326.00" fill="#1f77b4" stroke="none"/>
<polygon points="462.00,320.00 466.00,316.00 470.00,314.00 476.00,316.00 484.00,317.00 492.00,318.00 498.00,320.00 498.00,326.00 492.00,330.00 484.00,332.00 476.00,335.00 470.00,338.00 466.00,333.00 462.00,326.00" fill="#1f77b4" stroke="none"/>
<polygon points="436.00,321.00 444.00,319.00 452.00,320.50 457.00,322.50 457.00,325.50 450.00,328.50 443.00,329.00 436.00,326.00" fill="#1f77b4" stroke="none"/>
</g>
<line x1="78.50" y1="405.30" x2="78.50" y2="410.60" stroke="#000" stroke-width="1.20"/>
<line x1="134.50" y1="405.30" x2="134.50" y2="410.60" stroke="#000" stroke-width="1.20"/>
<line x1="189.50" y1="405.30" x2="189.50" y2="410.60" stroke="#000" stroke-width="1.20"/>
<line x1="245.50" y1="405.30" x2="245.50" y2="410.60" stroke="#000" stroke-width="1.20"/>
<line x1="300.50" y1="405.30" x2="300.50" y2="410.60" stroke="#000" stroke-width="1.20"/>
<line x1="356.50" y1="405.30" x2="356.50" y2="410.60" stroke="#000" stroke-width="1.20"/>
<line x1="412.50" y1="405.30" x2="412.50" y2="410.60" stroke="#000" stroke-width="1.20"/>
<line x1="467.50" y1="405.30" x2="467.50" y2="410.60" stroke="#000" stroke-width="1.20"/>
<line x1="523.50" y1="405.30" x2="523.50" y2="410.60" stroke="#000" stroke-width="1.20"/>
<line x1="579.50" y1="405.30" x2="579.50" y2="410.60" stroke="#000" stroke-width="1.20"/>
<line x1="48.55" y1="280.50" x2="53.55" y2="280.50" stroke="#000" stroke-width="1.20"/>
<line x1="48.55" y1="323.50" x2="53.55" y2="323.50" stroke="#000" stroke-width="1.20"/>
<line x1="48.55" y1="365.50" x2="53.55" y2="365.50" stroke="#000" stroke-width="1.20"/>
<rect x="53.55" y="241.40" width="542.00" height="163.90" fill="none" stroke="#000" stroke-width="1.20"/>
<text x="78.10" y="425.00" font-size="13.33" text-anchor="middle">0.000</text>
<text x="134.10" y="425.00" font-size="13.33" text-anchor="middle">0.060</text>
<text x="189.10" y="425.00" font-size="13.33" text-anchor="middle">0.120</text>
<text x="245.10" y="425.00" font-size="13.33" text-anchor="middle">0.180</text>
<text x="300.10" y="425.00" font-size="13.33" text-anchor="middle">0.240</text>
<text x="356.10" y="425.00" font-size="13.33" text-anchor="middle">0.300</text>
<text x="412.10" y="425.00" font-size="13.33" text-anchor="middle">0.360</text>
<text x="467.10" y="425.00" font-size="13.33" text-anchor="middle">0.420</text>
<text x="523.10" y="425.00" font-size="13.33" text-anchor="middle">0.480</text>
<text x="579.10" y="425.00" font-size="13.33" text-anchor="middle">0.540</text>
<text x="44.15" y="285.70" font-size="13.33" text-anchor="end">0.1</text>
<text x="44.15" y="328.70" font-size="13.33" text-anchor="end">0.0</text>
<text x="42.45" y="370.70" font-size="13.33" text-anchor="end">−0.1</text>
<text x="324.55" y="23.5" font-size="16.6" text-anchor="middle">Waveforms</text>
<text x="324.55" y="445.2" font-size="13.33" text-anchor="middle">Time</text>
</svg></body></html>
